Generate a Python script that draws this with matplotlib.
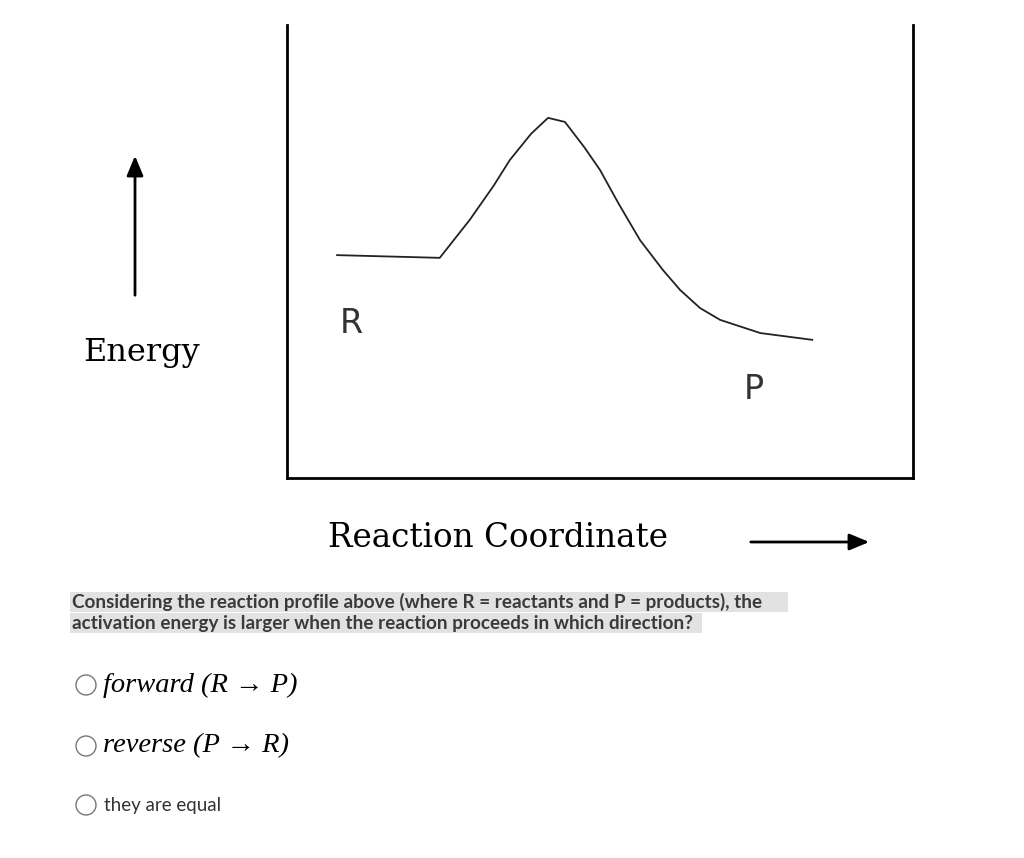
import matplotlib
matplotlib.use("Agg")
import matplotlib.pyplot as plt
from matplotlib.patches import Circle, Rectangle

# reaction profile (reaction coordinate, energy), box spans 0..10 on both
coord = [0.8, 2.44, 2.92, 3.3, 3.56, 3.9, 4.17, 4.44, 4.75, 5.0, 5.3, 5.64, 6.0, 6.28, 6.6, 6.92, 7.56, 8.39]
energy = [4.92, 4.86, 5.70, 6.45, 7.02, 7.6, 7.95, 7.86, 7.3, 6.80, 6.05, 5.25, 4.6, 4.15, 3.75, 3.49, 3.20, 3.05]

question = ["Considering the reaction profile above (where R = reactants and P = products), the",
            "activation energy is larger when the reaction proceeds in which direction?"]
choices = ["forward (R \u2192 P)", "reverse (P \u2192 R)", "they are equal"]

W, H = 1024, 858
fig = plt.figure(figsize=(W / 100, H / 100), dpi=100)

# page overlay in pixel coordinates
bg = fig.add_axes([0, 0, 1, 1])
bg.set_xlim(0, W)
bg.set_ylim(H, 0)
bg.axis("off")

# plot box
ax = fig.add_axes([287 / W, 1 - 478 / H, (913 - 287) / W, (478 - 25) / H])
ax.plot(coord, energy, color="#222222", lw=1.3)
ax.set_xlim(0, 10)
ax.set_ylim(0, 10)
ax.set_xticks([])
ax.set_yticks([])
ax.spines["top"].set_visible(False)
for s in ["left", "right", "bottom"]:
    ax.spines[s].set_linewidth(2)
ax.text(0.85, 3.2, "R", fontsize=24, family="DejaVu Sans", color="#333333")
ax.text(7.3, 1.75, "P", fontsize=24, family="DejaVu Sans", color="#333333")

# axis arrows and labels
bg.annotate("", xy=(135, 153), xytext=(135, 298),
            arrowprops=dict(arrowstyle="-|>,head_length=1.2,head_width=0.5", color="black", lw=2))
bg.annotate("", xy=(872, 542), xytext=(748, 542),
            arrowprops=dict(arrowstyle="-|>,head_length=1.2,head_width=0.5", color="black", lw=2))
bg.text(83, 352, "Energy", fontsize=23, family="DejaVu Serif", va="center")
bg.text(328, 538, "Reaction Coordinate", fontsize=23.5, family="DejaVu Serif", va="center")

# question text with grey highlight
bg.add_patch(Rectangle((70, 592), 718, 20, color="#e2e2e2", lw=0))
bg.add_patch(Rectangle((70, 613), 632, 20, color="#e2e2e2", lw=0))
bg.text(72, 602, question[0], fontsize=13.6, family="Lato", weight="bold", color="#3a3a3a", va="center")
bg.text(72, 623, question[1], fontsize=13.6, family="Lato", weight="bold", color="#3a3a3a", va="center")

# answer choices
ys = [685, 746, 805]
for i, (txt, y) in enumerate(zip(choices, ys)):
    bg.add_patch(Circle((86, y), 10, fill=False, ec="#777777", lw=1))
    if i < 2:
        bg.text(103, y, txt, fontsize=20.5, family="Liberation Serif", style="italic", va="center")
    else:
        bg.text(104, y, txt, fontsize=13.5, family="Lato", color="#333333", va="center")

fig.savefig("out.png", dpi=100)
